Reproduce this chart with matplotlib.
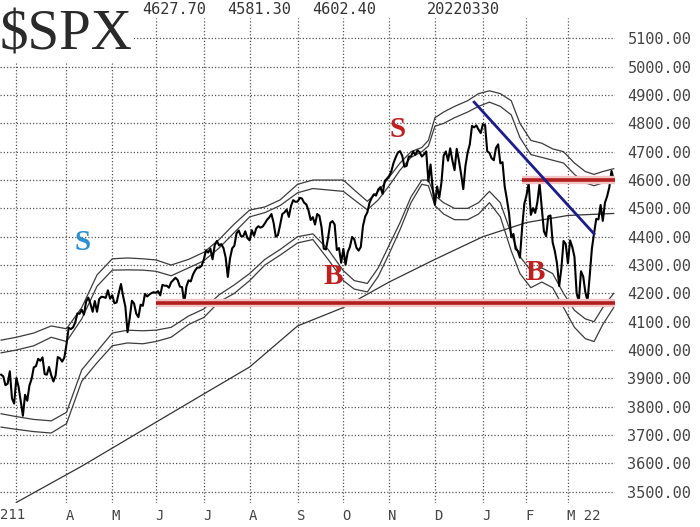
import matplotlib
matplotlib.use("Agg")
import matplotlib.pyplot as plt
import matplotlib.transforms as mtransforms

# --- daily closes, one trading day per index (18 Feb 2021 .. 30 Mar 2022) ---
close_feb21 = [3913, 3907, 3876, 3881, 3925, 3829, 3811]
close_mar21 = [3901, 3871, 3820, 3768, 3842, 3821, 3875, 3898, 3939, 3943, 3969, 3962,
               3974, 3915, 3913, 3940, 3911, 3889, 3910, 3975, 3971, 3959, 3973]
close_apr21 = [4020, 4078, 4074, 4080, 4097, 4129, 4128, 4142, 4125, 4171, 4185, 4163,
               4135, 4173, 4135, 4180, 4188, 4187, 4184, 4211, 4181]
close_may21 = [4193, 4165, 4168, 4202, 4233, 4189, 4153, 4063, 4113, 4174, 4164, 4128,
               4116, 4160, 4156, 4198, 4189, 4196, 4201, 4204]
close_jun21 = [4202, 4208, 4193, 4230, 4227, 4227, 4220, 4239, 4247, 4255, 4247, 4224,
               4222, 4166, 4224, 4246, 4242, 4266, 4281, 4291, 4291, 4298]
close_jul21 = [4320, 4352, 4344, 4358, 4320, 4370, 4385, 4369, 4374, 4360, 4327, 4258,
               4323, 4359, 4368, 4412, 4422, 4402, 4401, 4419, 4395]
close_aug21 = [4387, 4423, 4403, 4429, 4437, 4432, 4436, 4447, 4460, 4468, 4480, 4449,
               4400, 4406, 4442, 4480, 4486, 4496, 4470, 4509, 4529, 4523]
close_sep21 = [4524, 4537, 4535, 4520, 4514, 4493, 4459, 4469, 4443, 4480, 4474, 4433,
               4358, 4355, 4396, 4449, 4455, 4443, 4353, 4360, 4308]
close_oct21 = [4357, 4301, 4346, 4364, 4399, 4391, 4361, 4351, 4364, 4438, 4471, 4486,
               4520, 4537, 4550, 4545, 4567, 4575, 4551, 4597, 4605]
close_nov21 = [4614, 4631, 4660, 4680, 4697, 4702, 4686, 4647, 4650, 4683, 4683, 4701,
               4689, 4705, 4698, 4683, 4691, 4701, 4595, 4655, 4567]
close_dec21 = [4513, 4577, 4538, 4592, 4686, 4701, 4668, 4712, 4669, 4635, 4710, 4669,
               4621, 4568, 4650, 4697, 4726, 4791, 4786, 4793, 4778, 4766]
close_jan22 = [4797, 4794, 4701, 4696, 4677, 4670, 4713, 4726, 4659, 4663, 4577, 4533,
               4483, 4398, 4410, 4357, 4350, 4326, 4432, 4516]
close_feb22 = [4546, 4589, 4477, 4501, 4484, 4522, 4587, 4504, 4419, 4402, 4472, 4475,
               4380, 4349, 4305, 4226, 4288, 4385, 4374]
close_mar22 = [4306, 4387, 4364, 4329, 4201, 4171, 4278, 4260, 4204, 4173, 4262, 4358,
               4412, 4463, 4461, 4512, 4456, 4520, 4543, 4575, 4632, 4602]

closes = (close_feb21 + close_mar21 + close_apr21 + close_may21 + close_jun21 + close_jul21
          + close_aug21 + close_sep21 + close_oct21 + close_nov21 + close_dec21
          + close_jan22 + close_feb22 + close_mar22)

# --- volatility bands ---
band_idx = [0, 7, 15, 23, 30, 37, 44, 51, 58, 65, 71, 78, 86, 93, 100, 107, 114, 121, 128,
            136, 143, 150, 157, 162, 168, 173, 178, 183, 188, 193, 196, 199, 203, 208, 214,
            219, 224, 229, 234, 238, 243, 248, 253, 258, 263, 268, 272, 276, 281]
upper_outer = [4035, 4045, 4060, 4085, 4075, 4150, 4265, 4322, 4325, 4322, 4318, 4300, 4320,
               4345, 4390, 4445, 4494, 4505, 4530, 4585, 4600, 4600, 4600, 4565, 4525, 4560,
               4610, 4660, 4700, 4715, 4740, 4820, 4840, 4860, 4880, 4905, 4915, 4905, 4880,
               4800, 4740, 4730, 4710, 4700, 4660, 4630, 4620, 4630, 4640]
upper_inner = [3990, 4000, 4015, 4045, 4030, 4110, 4225, 4282, 4283, 4282, 4278, 4262, 4290,
               4315, 4360, 4415, 4470, 4485, 4510, 4555, 4570, 4565, 4560, 4530, 4495, 4530,
               4580, 4635, 4680, 4700, 4720, 4790, 4800, 4820, 4840, 4860, 4875, 4860, 4830,
               4750, 4690, 4680, 4670, 4660, 4620, 4590, 4580, 4590, 4600]
lower_inner = [3775, 3765, 3755, 3750, 3780, 3930, 3995, 4060, 4070, 4068, 4070, 4080, 4120,
               4145, 4195, 4230, 4270, 4320, 4355, 4400, 4410, 4355, 4280, 4245, 4235, 4290,
               4370, 4450, 4540, 4600, 4600, 4545, 4520, 4500, 4500, 4520, 4560, 4520, 4410,
               4330, 4280, 4290, 4270, 4200, 4140, 4110, 4100, 4150, 4200]
lower_outer = [3728, 3720, 3712, 3707, 3740, 3890, 3955, 4015, 4025, 4022, 4030, 4045, 4090,
               4115, 4170, 4200, 4245, 4300, 4335, 4378, 4390, 4320, 4245, 4215, 4205, 4260,
               4340, 4425, 4520, 4585, 4580, 4510, 4480, 4460, 4460, 4480, 4520, 4470, 4350,
               4270, 4220, 4240, 4220, 4150, 4080, 4040, 4030, 4090, 4150]

# 200-day moving average
ma200_idx = [7, 37, 71, 93, 114, 136, 157, 178, 199, 221, 241, 260, 281]
ma200_val = [3462, 3590, 3745, 3845, 3940, 4085, 4150, 4240, 4320, 4400, 4450, 4475, 4482]

# drawn support / resistance and trend line
support_level, support_from = 4165, 71
resist_level, resist_from = 4600, 239
trend_idx = [217, 272]
trend_val = [4875, 4410]

# buy / sell signal marks
signal_text = ["S", "B", "S", "B"]
signal_idx = [37.6, 152.3, 182, 245]
signal_price = [4381, 4261, 4777, 4272]
signal_color = ["#2b8fd2", "#c01f1f", "#c01f1f", "#c01f1f"]

# month grid
month_idx = [7, 30, 51, 71, 93, 114, 136, 157, 178, 199, 221, 241, 260]
month_lbl = ["", "A", "M", "J", "J", "A", "S", "O", "N", "D", "J", "F", "M 22"]

header_vals = ["4627.70", "4581.30", "4602.40", "20220330"]
header_x = [142, 227, 312, 427]

W, H = 700, 527
fig = plt.figure(figsize=(W / 100, H / 100), dpi=100)
ax = fig.add_axes([0, 24 / H, 615 / W, 485 / H])
ax.set_xlim(-0.5, 281.6)
ax.set_ylim(3460, 5172)

for s in ax.spines.values():
    s.set_visible(False)

ax.set_xticks(month_idx)
ax.set_xticklabels([])
yt = list(range(3500, 5101, 100))
ax.set_yticks(yt)
ax.yaxis.tick_right()
ax.set_yticklabels([f"{v:.2f}" for v in yt], fontfamily="DejaVu Sans Mono",
                   fontsize=11, color="#444")
ax.tick_params(axis="both", length=0)
ax.tick_params(axis="y", pad=9)
ax.grid(True, linestyle=(0, (1, 1.6)), color="#555", lw=0.9)
ax.set_axisbelow(True)

mono = "DejaVu Sans Mono"
blend = mtransforms.blended_transform_factory(ax.transData, ax.transAxes)
for mi, ml in zip(month_idx, month_lbl):
    if ml:
        ax.text(mi - 0.3, -0.026, ml, transform=blend, ha="left", va="center",
                fontfamily=mono, fontsize=10, color="#444", clip_on=False)
fig.text(0.0, 1 - 515 / H, "211", ha="left", va="center", fontfamily=mono,
         fontsize=10, color="#444")

# bands, moving average, price
band_kw = dict(color="#3c3c3c", lw=0.9)
ax.plot(band_idx, upper_outer, **band_kw)
ax.plot(band_idx, upper_inner, **band_kw)
ax.plot(band_idx, lower_inner, **band_kw)
ax.plot(band_idx, lower_outer, **band_kw)
ax.plot(ma200_idx, ma200_val, color="#333", lw=0.9)
ax.plot(range(len(closes)), closes, color="black", lw=1.5)

last = len(closes) - 1 + 0.5
for lvl, start in [(support_level, support_from), (resist_level, resist_from)]:
    ax.plot([start, last], [lvl, lvl], color="#f3c4c4", lw=6, solid_capstyle="butt", zorder=4)
    ax.plot([start, last], [lvl, lvl], color="#b01e1e", lw=2.6, solid_capstyle="butt", zorder=5)
ax.plot(trend_idx, trend_val, color="#1c1c8e", lw=2.0, zorder=5)

for t, xi, yp, c in zip(signal_text, signal_idx, signal_price, signal_color):
    ax.text(xi, yp, t, color=c, fontsize=21, fontweight="bold",
            fontfamily="Liberation Serif", ha="center", va="center", zorder=6)

# header
ax.text(0.0, 1 - 50 / H, "$SPX", transform=fig.transFigure, ha="left", va="baseline",
        fontfamily="Liberation Serif", fontsize=41, color="#2a2a2a", zorder=10,
        bbox=dict(facecolor="white", edgecolor="none", pad=1))
for txt, hx in zip(header_vals, header_x):
    fig.text(hx / W, 1 - 10 / H, txt, ha="left", va="center", fontfamily=mono,
             fontsize=11, color="#333")

fig.savefig("out.png", dpi=100)
